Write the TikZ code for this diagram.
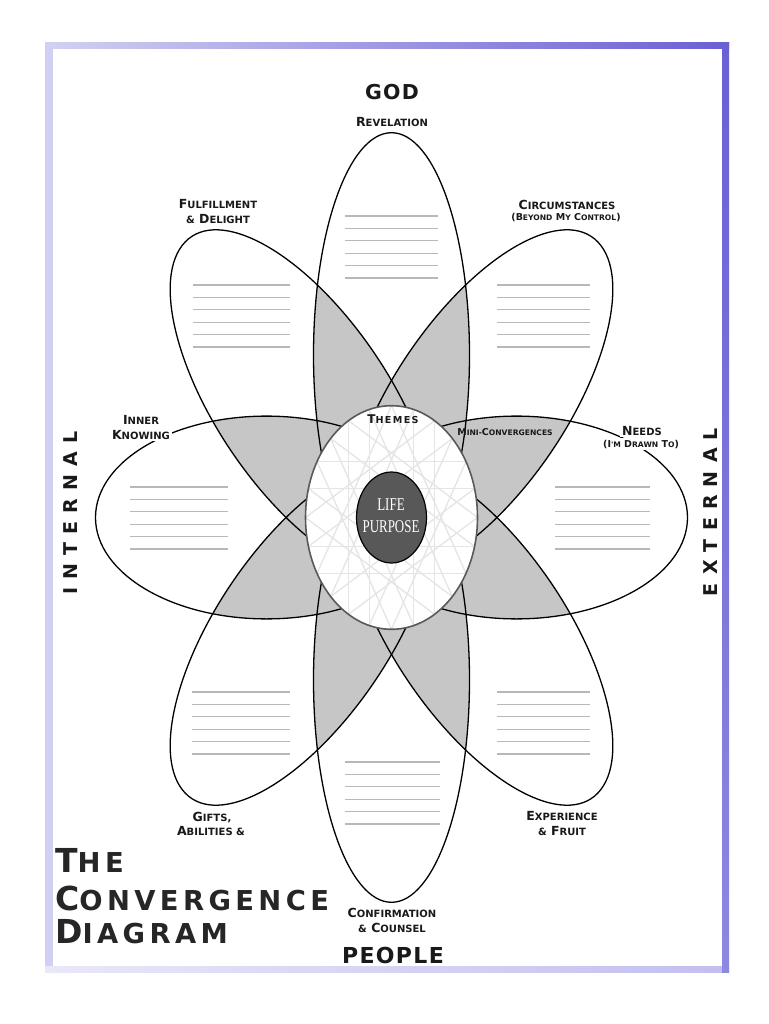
\documentclass[tikz,border=0pt]{standalone}
\usepackage{fontspec}
\usepackage{graphicx}
\newfontfamily\lblfam{DejaVu Sans}
\newfontfamily\lblsp[LetterSpace=14]{DejaVu Sans}
\newfontfamily\bigsp[LetterSpace=6]{DejaVu Sans}
\newfontfamily\vsp[LetterSpace=43]{DejaVu Sans}
\newfontfamily\ttlsp[LetterSpace=16]{DejaVu Sans}
\newfontfamily\lpfam{Liberation Serif}
\newcommand\sm[1]{\scalebox{0.8}{#1}}
\newcommand\smt[1]{\scalebox{0.83}{#1}}
\definecolor{petalgrey}{HTML}{C6C6C6}
\definecolor{wgrey}{HTML}{B8B8B8}
\definecolor{lpgrey}{HTML}{585858}
\definecolor{fa}{HTML}{D2D0F2}
\definecolor{fb}{HTML}{6A60D4}
\definecolor{fc}{HTML}{8E88E0}
\definecolor{fd}{HTML}{E8E8F8}
\definecolor{fe}{HTML}{C2BFF0}
\tikzset{
  lab/.style={font=\lblfam\bfseries\fontsize{12.5}{15}\selectfont, anchor=base, inner sep=0pt, text=black!90},
  labs/.style={font=\lblfam\bfseries\fontsize{9.5}{11}\selectfont, anchor=base, inner sep=0pt, text=black!90},
  mask/.style={fill=white, inner xsep=2pt, inner ysep=1.5pt},
  big/.style={font=\bigsp\bfseries\fontsize{20.5}{24}\selectfont, anchor=base, inner sep=0pt, text=black!90},
  vert/.style={font=\vsp\bfseries\fontsize{19}{22}\selectfont, rotate=90, inner sep=0pt, text=black!90},
  ttl/.style={font=\ttlsp\bfseries\fontsize{33}{36}\selectfont, anchor=base west, inner sep=0pt, text=black!85},
  lp/.style={font=\lpfam\fontsize{18}{20}\selectfont, anchor=base, inner sep=0pt, text=white},
  petal/.style={draw=black, line width=1.3pt},
  wline/.style={draw=wgrey, line width=1.2pt},
  spiro/.style={draw=black!10, line width=1.3pt}
}
\begin{document}
\begin{tikzpicture}[x=1pt,y=-1pt]
\useasboundingbox (0,0) rectangle (768,1024);
\fill[white] (0,0) rectangle (768,1024);
% frame
\fill[fa] (45,43) rectangle (53,972);
\shade[left color=fd, right color=fe] (45,966) rectangle (729,972);
\shade[top color=fb, bottom color=fc] (722,43) rectangle (729,972);
\shade[left color=fa, right color=fb] (45,43) rectangle (729,49);
% grey overlap regions of the eight petals
\begin{scope}[shift={(391.5,517.5)}, yscale=1.3]
  \foreach \a in {0,45,...,315}{
    \begin{scope}
      \clip[rotate=\a] (125,0) ellipse [x radius=171, y radius=78];
      \foreach \d in {45,90,135,180}
        \fill[petalgrey, rotate=\a+\d] (125,0) ellipse [x radius=171, y radius=78];
    \end{scope}
  }
\end{scope}
% writing lines
\foreach \xa/\xb/\ya in {345/438/216, 193/290/285, 497/590/285, 130/228/487, 555/650/487, 192/290/692, 497/590/692, 345/440/762}{
  \foreach \k in {0,...,5}{
    \draw[wline] (\xa,\ya+12.4*\k) -- (\xb,\ya+12.4*\k);
  }
}
% petal outlines and centre
\begin{scope}[shift={(391.5,517.5)}, yscale=1.3]
  \foreach \a in {0,45,...,315}
    \draw[petal, rotate=\a] (125,0) ellipse [x radius=171, y radius=78];
  \fill[white] (0,0) circle [radius=86];
  \begin{scope}
    \clip (0,0) circle [radius=86];
    \foreach \k in {0,...,11}{
      \draw[spiro] (\k*30:86) -- (\k*30+120:86);
      \draw[spiro] (\k*30+15:86) -- (\k*30+165:86);
    }
  \end{scope}
  \draw[draw=black!65, line width=1.6pt] (0,0) circle [radius=86];
  \fill[lpgrey] (0,0) circle [radius=35];
  \draw[black, line width=1.2pt] (0,0) circle [radius=35];
\end{scope}
% labels
\node[big] (god) at (392,100) {GOD};
\node[lab] (revelation) at (392,127) {R\sm{EVELATION}};
\node[lab] (fulfil) at (218,209) {F\sm{ULFILLMENT}};
\node[lab] (delight) at (218,224) {\sm{\&} D\sm{ELIGHT}};
\node[lab] (circ) at (567,210) {C\sm{IRCUMSTANCES}};
\node[labs] (beyond) at (566,221) {(B\sm{EYOND} M\sm{Y} C\sm{ONTROL})};
\node[lab, mask] (inner) at (141,424) {I\sm{NNER}};
\node[lab, mask] (knowing) at (141,439) {K\sm{NOWING}};
\node[labs] (mini) at (505,435) {M\sm{INI-}C\sm{ONVERGENCES}};
\node[lab, mask] (needs) at (642,435) {N\sm{EEDS}};
\node[labs, mask] (drawn) at (641,447) {(I\sm{'M} D\sm{RAWN} T\sm{O})};
\node[lab, font=\lblsp\bfseries\fontsize{12}{14}\selectfont] (themes) at (393,423) {T\sm{HEMES}};
\node[lp] (life) at (391,510) {\scalebox{0.72}[1]{LIFE}};
\node[lp] (purpose) at (391,532) {\scalebox{0.72}[1]{PURPOSE}};
\node[lab] (gifts) at (212,821) {G\sm{IFTS,}};
\node[lab] (abilities) at (211,835) {A\sm{BILITIES \&}};
\node[lab] (experience) at (562,820) {E\sm{XPERIENCE}};
\node[lab] (fruit) at (562,835) {\sm{\&} F\sm{RUIT}};
\node[lab] (confirm) at (392,917) {C\sm{ONFIRMATION}};
\node[lab] (counsel) at (392,932) {\sm{\&} C\sm{OUNSEL}};
\node[big, font=\bigsp\bfseries\fontsize{22}{26}\selectfont] (people) at (393,963) {PEOPLE};
\node[vert] (internal) at (71,513) {INTERNAL};
\node[vert] (external) at (711,512) {EXTERNAL};
\node[ttl] (the) at (55,872) {T\smt{HE}};
\node[ttl] (convergence) at (55,910) {C\smt{ONVERGENCE}};
\node[ttl] (diagram) at (55,943) {D\smt{IAGRAM}};
\end{tikzpicture}
\end{document}
